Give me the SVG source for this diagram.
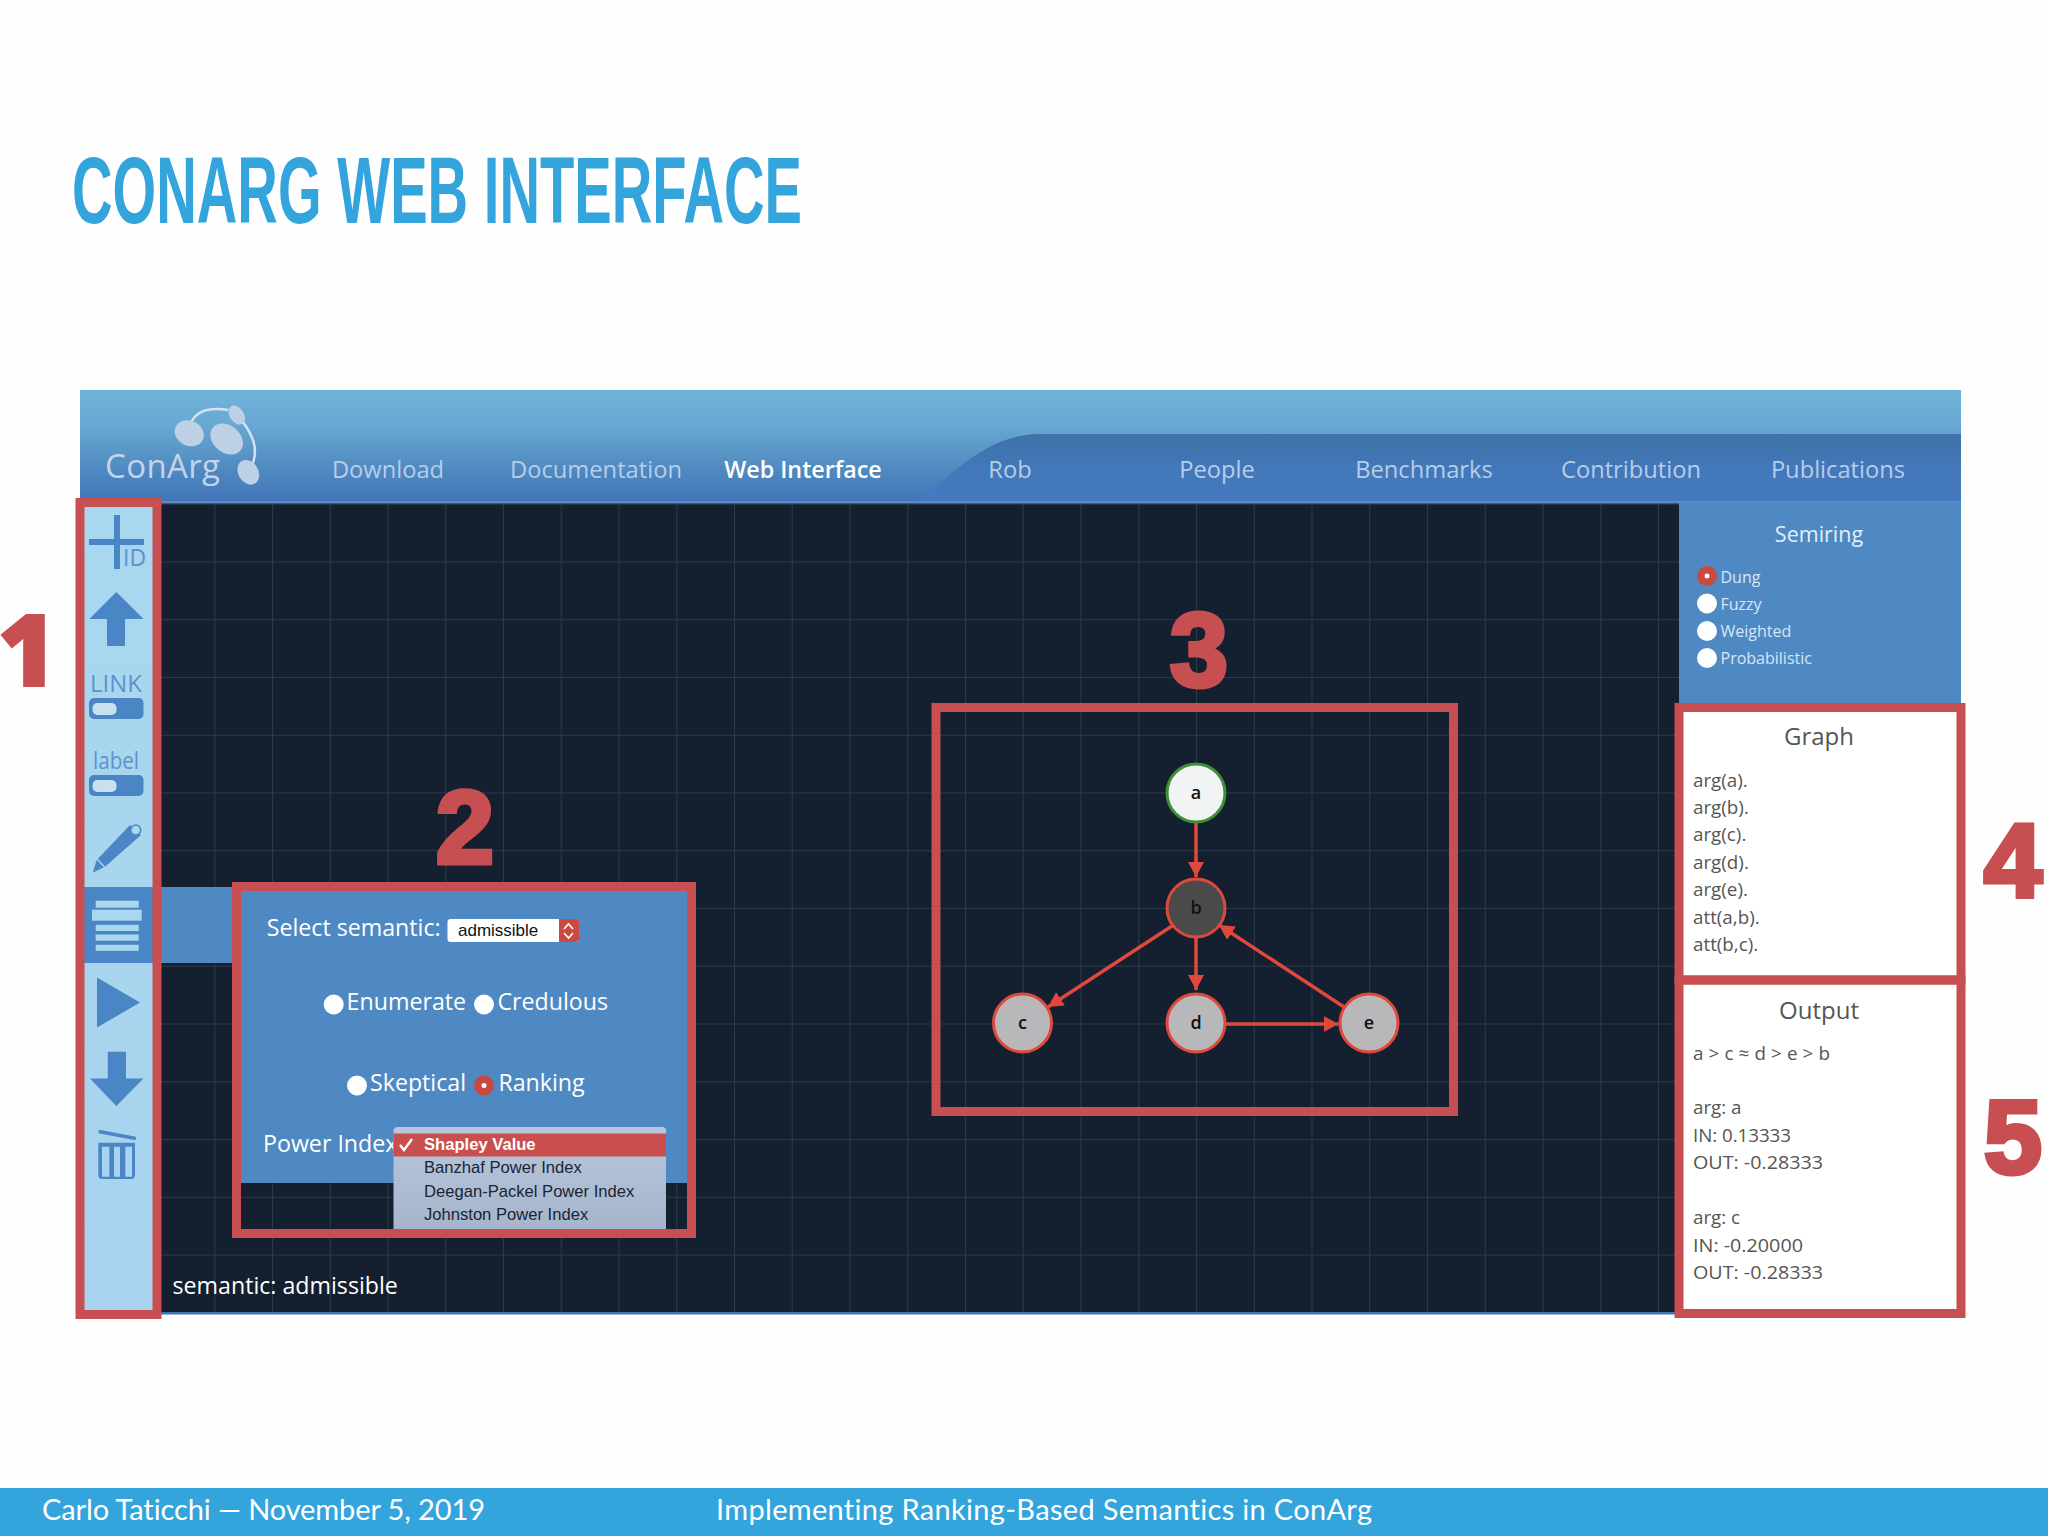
<svg xmlns="http://www.w3.org/2000/svg" width="2048" height="1536" viewBox="0 0 2048 1536">
<style>
.os{font-family:"Open Sans","Noto Sans","DejaVu Sans",sans-serif}
.nav{font-size:23.700px;fill:#b7cde8;text-anchor:middle}
.ls{font-family:"Liberation Sans",Arial,sans-serif}
.w{fill:#fff;font-size:23.200px}
.dd{font-size:16.600px;fill:#1b2433}
.sm{font-size:16px;fill:#d6e6f5}
.out{font-size:18.800px;fill:#555}
.ttl{font-size:24px;fill:#555;text-anchor:middle}
.frame{fill:none;stroke:#c74f51;stroke-width:9}
.big{font-family:"Liberation Sans",Arial,sans-serif;font-weight:700;font-size:104px;fill:#c74f51;stroke:#c74f51;stroke-width:5;text-anchor:middle}
.icon{fill:#4a86c5}
.knob{fill:#c7e1f1}
.edge{stroke:#e0483c;stroke-width:3.500;fill:none;marker-end:url(#ah)}
.node{stroke:#e0483c;stroke-width:3}
.nl{font-size:18px;font-weight:600;fill:#111;text-anchor:middle}
.foot{font-family:Lato,"Open Sans",sans-serif;font-size:29px;fill:#fff;font-variant-ligatures:none}
.logo{fill:#bdd0e6}
</style>
<defs>
<linearGradient id="hd" x1="0" y1="0" x2="0" y2="1"><stop offset="0" stop-color="#70b3da"/><stop offset=".3" stop-color="#69a9d5"/><stop offset=".62" stop-color="#5590c4"/><stop offset="1" stop-color="#3f73b6"/></linearGradient>
<linearGradient id="hd2" x1="0" y1="0" x2="0" y2="1"><stop offset="0" stop-color="#3e72a8"/><stop offset=".45" stop-color="#4277b8"/><stop offset="1" stop-color="#457ac2"/></linearGradient>
<linearGradient id="side" x1="0" y1="0" x2="0" y2="1"><stop offset="0" stop-color="#a8d7ee"/><stop offset="1" stop-color="#a9d3ee"/></linearGradient>
<linearGradient id="menu" x1="0" y1="0" x2="0" y2="1"><stop offset="0" stop-color="#b9c7dc"/><stop offset="1" stop-color="#a5b5cc"/></linearGradient>
<pattern id="grid" patternUnits="userSpaceOnUse" width="57.750" height="57.750" x="1196" y="908"><path d="M0 0H57.750M0 0V57.750" fill="none" stroke="#2b3a4b" stroke-width="2"/></pattern>
<marker id="ah" markerUnits="userSpaceOnUse" markerWidth="18" markerHeight="18" refX="15" refY="8" orient="auto"><path d="M0 0L15 8L0 16Z" fill="#e0483c"/></marker>
<clipPath id="pwr"><rect x="250" y="1120" width="143.500" height="50"/></clipPath>
</defs>
<rect width="2048" height="1536" fill="#fefefe"/>
<text x="72" y="223" class="ls" font-size="95" font-weight="700" fill="#34a4dc" textLength="730" lengthAdjust="spacingAndGlyphs">CONARG WEB INTERFACE</text>

<g id="canvas"><rect x="153" y="503" width="1527" height="811" fill="#14202f"/><rect x="153" y="503" width="1527" height="811" fill="url(#grid)"/><rect x="153" y="1312" width="1527" height="2.500" fill="#3f73b6"/></g>

<g id="header">
<rect x="80" y="390" width="1881" height="113" fill="url(#hd)"/>
<path d="M908 503C945 490 975 434 1041 434H1961V503Z" fill="url(#hd2)"/>
<rect x="80" y="501" width="1881" height="2.500" fill="#5f8cc0"/>
<g id="logo">
<path d="M191 423C196 411 208 407 228 410M243 422C253 436 258 448 253 463" fill="none" stroke="#d5e3f0" stroke-width="2.500"/>
<ellipse class="logo" cx="189.300" cy="433.300" rx="15" ry="12.500" transform="rotate(25 189.300 433.300)"/>
<ellipse class="logo" cx="226.700" cy="439" rx="18" ry="13.500" transform="rotate(40 226.700 439)"/>
<ellipse class="logo" cx="236.700" cy="415" rx="10.500" ry="7" transform="rotate(55 236.700 415)"/>
<ellipse class="logo" cx="248.300" cy="472.300" rx="13" ry="10" transform="rotate(60 248.300 472.300)"/>
<text x="105" y="478" class="os" font-size="33" fill="#c3d5ea" textLength="115">ConArg</text>
</g>
<g class="os">
<text x="388" y="478" class="nav">Download</text>
<text x="596" y="478" class="nav">Documentation</text>
<text x="803" y="478" class="nav" style="fill:#fff;font-weight:600;font-size:23.300px">Web Interface</text>
<text x="1010" y="478" class="nav">Rob</text>
<text x="1217" y="478" class="nav">People</text>
<text x="1424" y="478" class="nav">Benchmarks</text>
<text x="1631" y="478" class="nav">Contribution</text>
<text x="1838" y="478" class="nav">Publications</text>
</g>
</g>

<g id="toolbar">
<rect x="80" y="503" width="77" height="812" fill="url(#side)"/>
<rect x="84" y="887" width="69" height="76" fill="#4a86c5"/>
<rect class="icon" x="114" y="515" width="6" height="54"/><rect class="icon" x="89" y="539" width="55" height="6"/>
<text x="123" y="566" class="os" font-size="23" fill="#5a93cc" textLength="23" lengthAdjust="spacingAndGlyphs">ID</text>
<path class="icon" d="M116.300 592L143.500 619H125V646H107V619H89.400Z"/>
<text x="116" y="692" class="os" font-size="24" fill="#5a93cc" text-anchor="middle" textLength="52" lengthAdjust="spacingAndGlyphs">LINK</text>
<rect class="icon" x="89" y="698" width="54.500" height="21" rx="5"/><rect class="knob" x="92.500" y="703" width="24" height="12" rx="5"/>
<text x="116" y="769" class="os" font-size="24" fill="#5a93cc" text-anchor="middle" textLength="46" lengthAdjust="spacingAndGlyphs">label</text>
<rect class="icon" x="89" y="775" width="54.500" height="21" rx="5"/><rect class="knob" x="92.500" y="780" width="24" height="12" rx="5"/>
<path class="icon" d="M92.700 872.700L96.700 860L130 825L141 835L105 866.700Z"/>
<path d="M97 859L104.500 867" stroke="#a8d7ee" stroke-width="1.500" fill="none"/>
<circle cx="135.700" cy="830" r="5" fill="#a8d7ee" stroke="#4a86c5" stroke-width="1.500"/>
<g fill="#a8d7ee"><rect x="95.700" y="900.700" width="43" height="7"/><rect x="92" y="909.700" width="49.700" height="11"/><rect x="95.700" y="924.800" width="43" height="6.200"/><rect x="95.700" y="934.500" width="43" height="6.200"/><rect x="95.700" y="944.800" width="43" height="6"/></g>
<path class="icon" d="M97 977.600V1027.600L140 1002.400Z"/>
<path class="icon" d="M107.800 1051.700H126V1078.600H143.500L116.300 1105.900L90 1078.600H107.800Z"/>
<path d="M100 1131.700L134.500 1138.300" stroke="#4a86c5" stroke-width="3.500" stroke-linecap="round" fill="none"/>
<path d="M98.300 1142.700H135V1175Q135 1179 131 1179H102.300Q98.300 1179 98.300 1175ZM102 1146.700V1176.700H109.300V1146.700ZM114 1146.700V1176.700H120V1146.700ZM125.300 1146.700V1176.700H132V1146.700Z" class="icon" fill-rule="evenodd"/>
</g>

<g id="semantic-panel">
<rect x="153" y="887" width="85" height="76" fill="#4f89c3"/>
<rect x="241" y="891" width="446" height="292" fill="#4f89c3"/>
<text x="266.700" y="936" class="os w">Select semantic:</text>
<rect x="447.500" y="919" width="131.500" height="23" rx="3" fill="#fff"/>
<path d="M559 919H576a3 3 0 0 1 3 3V939a3 3 0 0 1-3 3H559Z" fill="#c94a42"/>
<path d="M564 929l4.500-5 4.500 5M564 933l4.500 5 4.500-5" fill="none" stroke="#fff" stroke-width="1.600"/>
<text x="458" y="936" class="ls" font-size="17" fill="#111">admissible</text>
<circle cx="333.700" cy="1004.500" r="10" fill="#fff"/>
<text x="346.600" y="1010" class="os w">Enumerate</text>
<circle cx="484" cy="1004.500" r="10" fill="#fff"/>
<text x="497.500" y="1010" class="os w">Credulous</text>
<circle cx="357" cy="1085.500" r="10" fill="#fff"/>
<text x="370" y="1091" class="os w">Skeptical</text>
<circle cx="484" cy="1085.500" r="10" fill="#c9483f"/><circle cx="484" cy="1085.500" r="2.500" fill="#fff"/>
<text x="498.400" y="1091" class="os w">Ranking</text>
<text x="263" y="1152" class="os w" clip-path="url(#pwr)">Power Index</text>
<path d="M393.500 1131a4 4 0 0 1 4-4H662a4 4 0 0 1 4 4V1229H393.500Z" fill="url(#menu)"/>
<rect x="393.500" y="1133.500" width="272.500" height="23" fill="#c94f4f"/>
<path d="M400 1145l4 5 8-11" fill="none" stroke="#fff" stroke-width="2.400"/>
<text x="424" y="1150" class="ls dd" style="fill:#fff;font-weight:700" font-size="16">Shapley Value</text>
<text x="424" y="1173" class="ls dd">Banzhaf Power Index</text>
<text x="424" y="1196.500" class="ls dd">Deegan-Packel Power Index</text>
<text x="424" y="1220" class="ls dd">Johnston Power Index</text>
</g>

<g id="status"><text x="172.500" y="1294" class="os w">semantic: admissible</text></g>

<g id="semiring-panel">
<rect x="1679" y="503" width="282" height="201" fill="#4f89c3"/>
<text x="1819" y="542" class="os" font-size="21.500" fill="#e4eef8" text-anchor="middle">Semiring</text>
<circle cx="1707" cy="576" r="10" fill="#c9483f"/><circle cx="1707" cy="576" r="2.500" fill="#fff"/>
<circle cx="1707" cy="603.500" r="10" fill="#fff"/><circle cx="1707" cy="631" r="10" fill="#fff"/><circle cx="1707" cy="658" r="10" fill="#fff"/>
<g class="os sm"><text x="1720.500" y="582.500">Dung</text><text x="1720.500" y="609.500">Fuzzy</text><text x="1720.500" y="637">Weighted</text><text x="1720.500" y="664">Probabilistic</text></g>
</g>

<g id="graph-panel">
<rect x="1683" y="712" width="274" height="264" fill="#fff"/>
<text x="1819" y="745" class="os ttl">Graph</text>
<g class="os out"><text x="1693" y="786.500">arg(a).</text><text x="1693" y="814">arg(b).</text><text x="1693" y="841">arg(c).</text><text x="1693" y="868.500">arg(d).</text><text x="1693" y="896">arg(e).</text><text x="1693" y="923.500">att(a,b).</text><text x="1693" y="951">att(b,c).</text></g>
</g>

<g id="output-panel">
<rect x="1683" y="984" width="274" height="325" fill="#fff"/>
<text x="1819" y="1018.500" class="os ttl">Output</text>
<g class="os out"><text x="1693" y="1060" textLength="137">a &gt; c ≈ d &gt; e &gt; b</text><text x="1693" y="1114">arg: a</text><text x="1693" y="1142" textLength="98">IN: 0.13333</text><text x="1693" y="1169" textLength="130" lengthAdjust="spacingAndGlyphs">OUT: -0.28333</text><text x="1693" y="1224">arg: c</text><text x="1693" y="1252" textLength="110" lengthAdjust="spacingAndGlyphs">IN: -0.20000</text><text x="1693" y="1279" textLength="130" lengthAdjust="spacingAndGlyphs">OUT: -0.28333</text></g>
</g>

<g id="connectors">
<path class="edge" d="M1196 823V877"/>
<path class="edge" d="M1172 926L1048 1007"/>
<path class="edge" d="M1196 938V990"/>
<path class="edge" d="M1226 1024H1338.600"/>
<path class="edge" d="M1344 1007L1219 925"/>
</g>

<g id="node-a"><circle class="node" cx="1196" cy="793" r="29" fill="#f2f3f4" style="stroke:#3f8f35"/><text x="1196" y="799" class="os nl">a</text></g>
<g id="node-b"><circle class="node" cx="1196" cy="908" r="29" fill="#4a4a4a"/><text x="1196" y="914" class="os nl">b</text></g>
<g id="node-c"><circle class="node" cx="1022.500" cy="1023" r="29" fill="#b8b8ba"/><text x="1022.500" y="1029" class="os nl">c</text></g>
<g id="node-d"><circle class="node" cx="1196" cy="1023" r="29" fill="#b8b8ba"/><text x="1196" y="1029" class="os nl">d</text></g>
<g id="node-e"><circle class="node" cx="1369" cy="1023" r="29" fill="#b8b8ba"/><text x="1369" y="1029" class="os nl">e</text></g>

<g id="frames">
<rect class="frame" x="80" y="502.500" width="77" height="812"/>
<rect class="frame" x="236.500" y="886.500" width="455" height="347"/>
<rect class="frame" x="936" y="707.500" width="517.500" height="404"/>
<rect class="frame" x="1679" y="707.500" width="282" height="272.500"/>
<rect class="frame" x="1679" y="980" width="282" height="333.500"/>
</g>

<g id="numbers">
<text x="27" y="686" class="big" style="font-family:'Open Sans',sans-serif;font-weight:800;font-size:100px;stroke-width:2">1</text>
<text x="465" y="863" class="big">2</text>
<text x="1199" y="686" class="big">3</text>
<text x="2013" y="897" class="big">4</text>
<text x="2013" y="1173" class="big">5</text>
</g>

<g id="footer">
<rect y="1488" width="2048" height="48" fill="#34a4dc"/>
<text x="42" y="1520" class="foot" textLength="443">Carlo Taticchi — November 5, 2019</text>
<text x="716" y="1520" class="foot" textLength="656">Implementing Ranking-Based Semantics in ConArg</text>
</g>
</svg>
